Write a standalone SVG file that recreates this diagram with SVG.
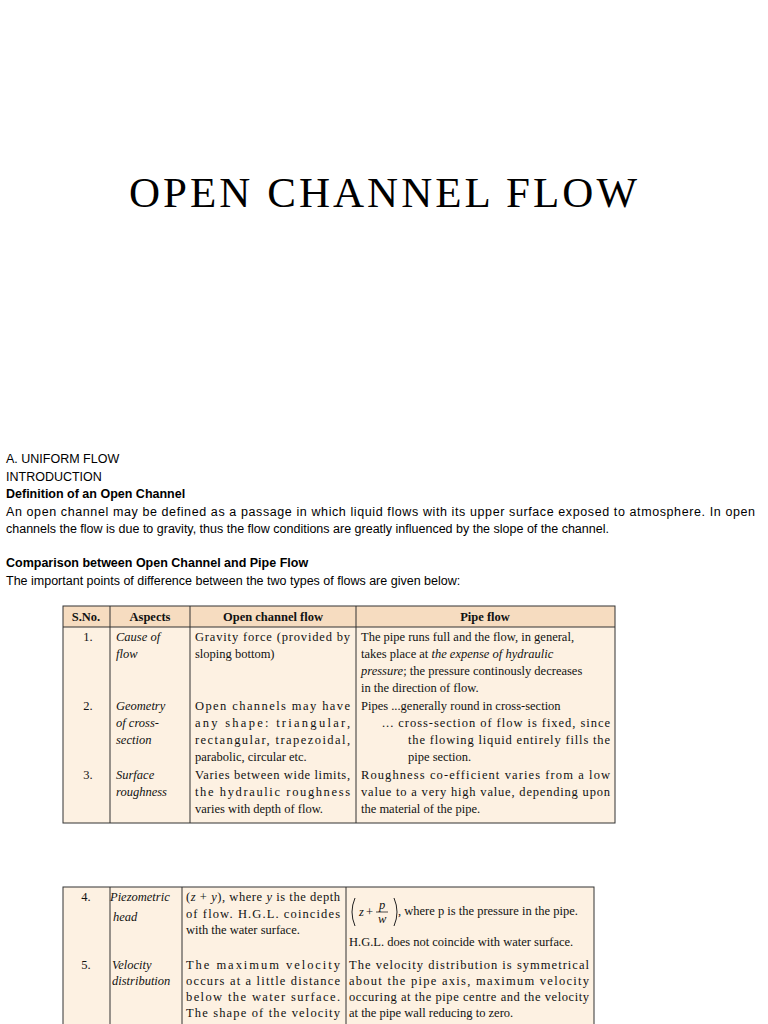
<svg xmlns="http://www.w3.org/2000/svg" width="768" height="1024" viewBox="0 0 768 1024">
<style>
.s{font-family:"Liberation Sans",Arial,sans-serif;font-size:12.5px;fill:#000}
.b{font-weight:bold}
.t{font-family:"Liberation Serif","Times New Roman",serif;font-size:12.5px;fill:#111}
.i{font-style:italic}
.c{text-anchor:middle}
.g{fill:none;stroke:#333;stroke-width:1}
</style>
<rect width="768" height="1024" fill="#fff"/>
<text x="383" y="207" text-anchor="middle" font-family="Liberation Serif,serif" font-size="43" textLength="508">OPEN CHANNEL FLOW</text>
<text class="s" x="6" y="463">A. UNIFORM FLOW</text>
<text class="s" x="6" y="481">INTRODUCTION</text>
<text class="s b" x="6" y="498">Definition of an Open Channel</text>
<text class="s" x="6" y="516" textLength="749" lengthAdjust="spacing">An open channel may be defined as a passage in which liquid flows with its upper surface exposed to atmosphere. In open</text>
<text class="s" x="6" y="533">channels the flow is due to gravity, thus the flow conditions are greatly influenced by the slope of the channel.</text>
<text class="s b" x="6" y="567">Comparison between Open Channel and Pipe Flow</text>
<text class="s" x="6" y="585">The important points of difference between the two types of flows are given below:</text>

<g id="table1">
<rect x="63" y="606" width="552" height="217" fill="#fdf1e2"/>
<rect x="63" y="606" width="552" height="21" fill="#f6dcc0"/>
<rect class="g" x="63" y="606" width="552" height="217"/>
<line class="g" x1="63" y1="627" x2="615" y2="627"/>
<line class="g" x1="110" y1="606" x2="110" y2="823"/>
<line class="g" x1="190" y1="606" x2="190" y2="823"/>
<line class="g" x1="356" y1="606" x2="356" y2="823"/>
<text class="t b c" x="86" y="621">S.No.</text>
<text class="t b c" x="150" y="621">Aspects</text>
<text class="t b c" x="273" y="621">Open channel flow</text>
<text class="t b c" x="485" y="621">Pipe flow</text>
<text class="t c" x="88" y="641">1.</text>
<text class="t i" x="116" y="641">Cause of</text>
<text class="t i" x="116" y="658">flow</text>
<text class="t" x="195" y="641" textLength="155" lengthAdjust="spacing">Gravity force (provided by</text>
<text class="t" x="195" y="658">sloping bottom)</text>
<text class="t" x="361" y="641">The pipe runs full and the flow, in general,</text>
<text class="t" x="361" y="658">takes place at <tspan class="i">the expense of hydraulic</tspan></text>
<text class="t" x="361" y="675"><tspan class="i">pressure</tspan>; the pressure continously decreases</text>
<text class="t" x="361" y="692">in the direction of flow.</text>
<text class="t c" x="88" y="710">2.</text>
<text class="t i" x="116" y="710">Geometry</text>
<text class="t i" x="116" y="727">of cross-</text>
<text class="t i" x="116" y="744">section</text>
<text class="t" x="195" y="710" textLength="155" lengthAdjust="spacing">Open channels may have</text>
<text class="t" x="195" y="727" textLength="155" lengthAdjust="spacing">any shape: triangular,</text>
<text class="t" x="195" y="744" textLength="155" lengthAdjust="spacing">rectangular, trapezoidal,</text>
<text class="t" x="195" y="761">parabolic, circular etc.</text>
<text class="t" x="361" y="710">Pipes ...generally round in cross-section</text>
<text class="t" x="382" y="727" textLength="228" lengthAdjust="spacing">... cross-section of flow is fixed, since</text>
<text class="t" x="408" y="744" textLength="202" lengthAdjust="spacing">the flowing liquid entirely fills the</text>
<text class="t" x="408" y="761">pipe section.</text>
<text class="t c" x="88" y="779">3.</text>
<text class="t i" x="116" y="779">Surface</text>
<text class="t i" x="116" y="796">roughness</text>
<text class="t" x="195" y="779" textLength="155" lengthAdjust="spacing">Varies between wide limits,</text>
<text class="t" x="195" y="796" textLength="155" lengthAdjust="spacing">the hydraulic roughness</text>
<text class="t" x="195" y="813">varies with depth of flow.</text>
<text class="t" x="361" y="779" textLength="249" lengthAdjust="spacing">Roughness co-efficient varies from a low</text>
<text class="t" x="361" y="796" textLength="249" lengthAdjust="spacing">value to a very high value, depending upon</text>
<text class="t" x="361" y="813">the material of the pipe.</text>
</g>

<g id="table2">
<rect x="63" y="887" width="531" height="140" fill="#fdf1e2"/>
<rect class="g" x="63" y="887" width="531" height="140"/>
<line class="g" x1="110" y1="887" x2="110" y2="1024"/>
<line class="g" x1="182" y1="887" x2="182" y2="1024"/>
<line class="g" x1="346" y1="887" x2="346" y2="1024"/>
<text class="t c" x="86" y="901">4.</text>
<text class="t i" x="110" y="901" font-size="11.5"> Piezometric</text>
<text class="t i" x="113" y="921" font-size="11.5">head</text>
<text class="t" x="186" y="901" textLength="154" lengthAdjust="spacing">(<tspan class="i">z</tspan> + <tspan class="i">y</tspan>), where <tspan class="i">y</tspan> is the depth</text>
<text class="t" x="186" y="918" textLength="154" lengthAdjust="spacing">of flow. H.G.L. coincides</text>
<text class="t" x="186" y="934">with the water surface.</text>
<path d="M355 898 Q349 912 355 926 M394 898 Q400 912 394 926" fill="none" stroke="#222"/>
<text class="t i" x="359" y="916" font-size="10">z</text>
<text class="t" x="366" y="916" font-size="10">+</text>
<text class="t i" x="379" y="909" font-size="10">p</text>
<line x1="376" y1="912" x2="388" y2="912" stroke="#222" stroke-width="0.8"/>
<text class="t i" x="378" y="923" font-size="10">w</text>
<text class="t" x="398" y="915">, where p is the pressure in the pipe.</text>
<text class="t" x="349" y="946">H.G.L. does not coincide with water surface.</text>
<text class="t c" x="86" y="969">5.</text>
<text class="t i" x="112" y="969" font-size="11.5">Velocity</text>
<text class="t i" x="112" y="985" font-size="11.5">distribution</text>
<text class="t" x="186" y="969" textLength="154" lengthAdjust="spacing">The maximum velocity</text>
<text class="t" x="186" y="985" textLength="154" lengthAdjust="spacing">occurs at a little distance</text>
<text class="t" x="186" y="1001" textLength="154" lengthAdjust="spacing">below the water surface.</text>
<text class="t" x="186" y="1017" textLength="154" lengthAdjust="spacing">The shape of the velocity</text>
<text class="t" x="349" y="969" textLength="240" lengthAdjust="spacing">The velocity distribution is symmetrical</text>
<text class="t" x="349" y="985" textLength="240" lengthAdjust="spacing">about the pipe axis, maximum     velocity</text>
<text class="t" x="349" y="1001" textLength="240" lengthAdjust="spacing">occuring at the pipe centre and the velocity</text>
<text class="t" x="349" y="1017">at the pipe wall reducing to zero.</text>
</g>
</svg>
